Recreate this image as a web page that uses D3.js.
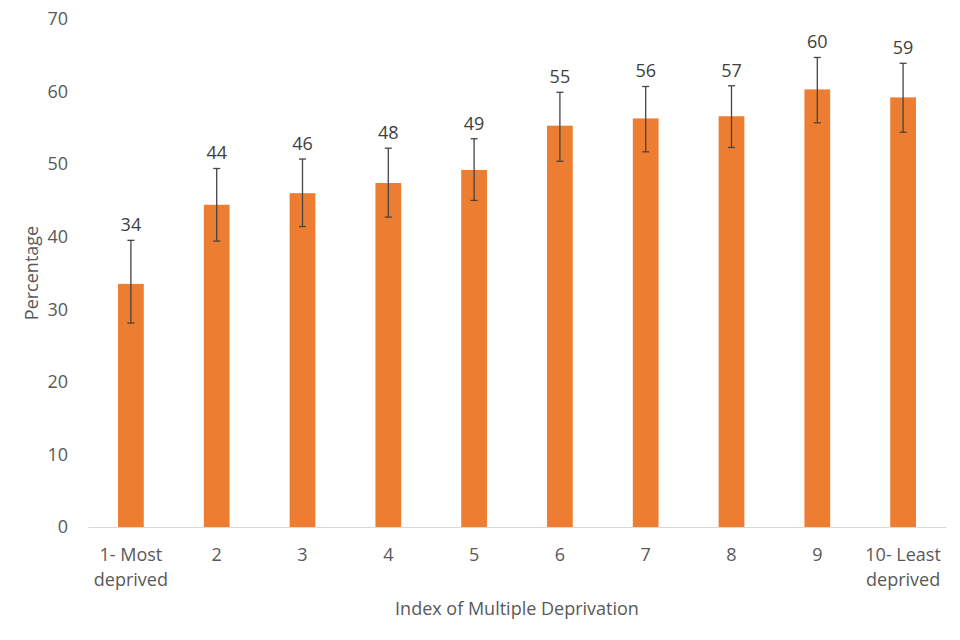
<!DOCTYPE html>
<html>
<head>
<meta charset="utf-8">
<script src="https://cdn.jsdelivr.net/npm/d3@7"></script>
<style>
  body { margin: 0; background: #fff; }
  svg { display: block; }
  text { font-family: "Open Sans", "Noto Sans", sans-serif; }
</style>
</head>
<body>
<svg id="chart" width="960" height="640"></svg>
<script>
// Data
const categories = ["1- Most\ndeprived", "2", "3", "4", "5", "6", "7", "8", "9", "10- Least\ndeprived"];
const values     = [33.5, 44.4, 46.0, 47.4, 49.2, 55.3, 56.3, 56.6, 60.3, 59.2];
const errLow     = [28.1, 39.4, 41.4, 42.7, 45.0, 50.4, 51.7, 52.3, 55.7, 54.4];
const errHigh    = [39.5, 49.4, 50.7, 52.2, 53.5, 59.9, 60.7, 60.8, 64.7, 63.9];
const labels     = ["34", "44", "46", "48", "49", "55", "56", "57", "60", "59"];
const yTicks     = [0, 10, 20, 30, 40, 50, 60, 70];

const svg = d3.select("#chart");
const margin = { left: 88, right: 14, top: 19, bottom: 113 };
const W = 960, H = 640;

const x = d3.scaleBand()
  .domain(categories)
  .range([margin.left, W - margin.right])
  .paddingInner(0.7)
  .paddingOuter(0.35);

const y = d3.scaleLinear().domain([0, 70]).range([H - margin.bottom, margin.top]);

const data = categories.map((c, i) => ({ c, v: values[i], lo: errLow[i], hi: errHigh[i], l: labels[i] }));

// Bars
svg.append("g").selectAll("rect").data(data).join("rect")
  .attr("x", d => x(d.c))
  .attr("y", d => y(d.v))
  .attr("width", x.bandwidth())
  .attr("height", d => y(0) - y(d.v))
  .attr("fill", "#ED7D31");

// Baseline axis
const xAxis = d3.axisBottom(x).tickSize(0).tickFormat("");
svg.append("g")
  .attr("transform", `translate(0,${y(0)})`)
  .call(xAxis)
  .call(g => g.select(".domain").attr("stroke", "#d9d9d9").attr("stroke-width", 1));

// X labels (multi-line)
const xl = svg.append("g").selectAll("text").data(data).join("text")
  .attr("text-anchor", "middle")
  .attr("font-size", 18)
  .attr("fill", "#595959");
xl.each(function(d) {
  const lines = d.c.split("\n");
  const t = d3.select(this);
  lines.forEach((ln, k) => {
    t.append("tspan")
      .attr("x", x(d.c) + x.bandwidth() / 2)
      .attr("y", y(0) + 34 + k * 25)
      .text(ln);
  });
});

// Y axis (labels only)
const yAxis = d3.axisLeft(y).tickValues(yTicks).tickSize(0).tickPadding(0);
svg.append("g")
  .attr("transform", `translate(68,0)`)
  .call(yAxis)
  .call(g => g.select(".domain").remove())
  .call(g => g.selectAll("text")
    .attr("font-size", 18)
    .attr("font-family", "'Open Sans', 'Noto Sans', sans-serif")
    .attr("fill", "#595959"));

// Error bars
const eb = svg.append("g").attr("stroke", "#454545").attr("stroke-width", 1.3);
const cx = d => x(d.c) + x.bandwidth() / 2;
eb.selectAll("line.v").data(data).join("line").attr("class", "v")
  .attr("x1", cx).attr("x2", cx)
  .attr("y1", d => y(d.lo)).attr("y2", d => y(d.hi));
eb.selectAll("line.t").data(data).join("line").attr("class", "t")
  .attr("x1", d => cx(d) - 3.5).attr("x2", d => cx(d) + 3.5)
  .attr("y1", d => y(d.hi)).attr("y2", d => y(d.hi));
eb.selectAll("line.b").data(data).join("line").attr("class", "b")
  .attr("x1", d => cx(d) - 3.5).attr("x2", d => cx(d) + 3.5)
  .attr("y1", d => y(d.lo)).attr("y2", d => y(d.lo));

// Data labels
svg.append("g").selectAll("text").data(data).join("text")
  .attr("x", cx)
  .attr("y", d => y(d.hi) - 9)
  .attr("text-anchor", "middle")
  .attr("font-size", 18)
  .attr("fill", "#404040")
  .text(d => d.l);

// Axis titles
svg.append("text")
  .attr("x", (margin.left + W - margin.right) / 2)
  .attr("y", 615)
  .attr("text-anchor", "middle")
  .attr("font-size", 18)
  .attr("fill", "#595959")
  .text("Index of Multiple Deprivation");

svg.append("text")
  .attr("transform", `translate(38,${(y(0) + y(70)) / 2}) rotate(-90)`)
  .attr("text-anchor", "middle")
  .attr("font-size", 18)
  .attr("fill", "#595959")
  .text("Percentage");
</script>
</body>
</html>
